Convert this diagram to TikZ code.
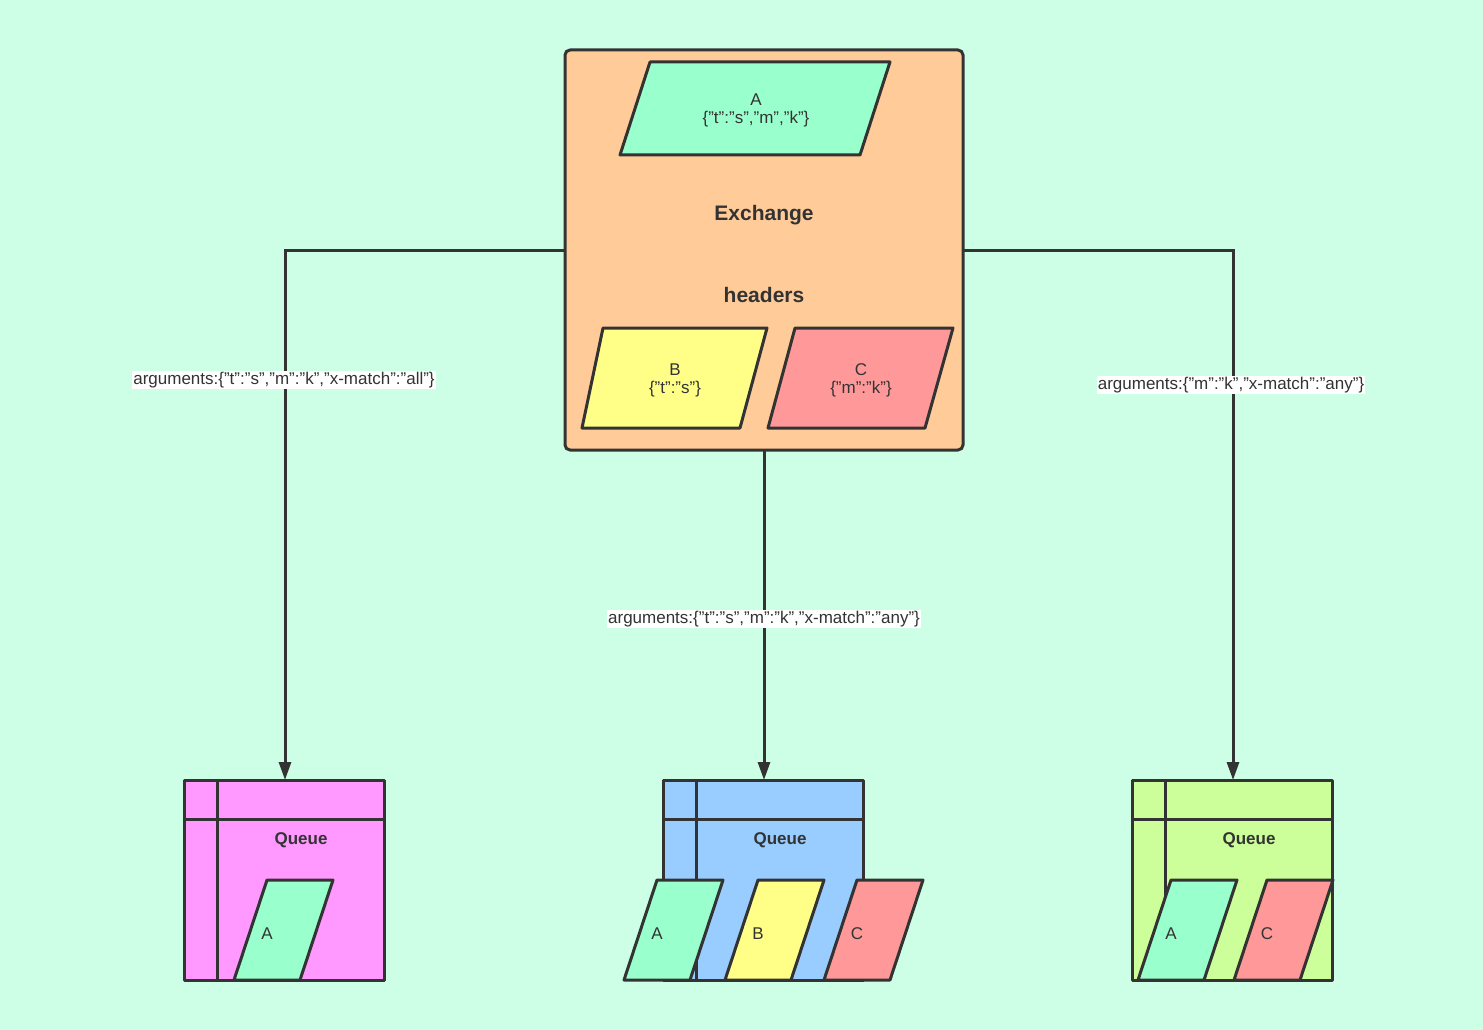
\documentclass[tikz,border=0pt]{standalone}
\usepackage{fontspec}
\setmainfont{Liberation Sans}
\usetikzlibrary{arrows.meta}
\definecolor{bg}{HTML}{CCFFE6}
\definecolor{ex}{HTML}{FFCC99}
\definecolor{ga}{HTML}{99FFCC}
\definecolor{yb}{HTML}{FFFF88}
\definecolor{rc}{HTML}{FF9999}
\definecolor{q1}{HTML}{FF99FF}
\definecolor{q2}{HTML}{99CCFF}
\definecolor{q3}{HTML}{CCFF99}
\definecolor{ln}{HTML}{333333}
\begin{document}
\begin{tikzpicture}[x=1pt,y=-1pt,line width=3pt,
  bx/.style={draw=ln,line join=round},
  lbl/.style={fill=white,inner sep=1pt,text=ln,font=\fontsize{17}{19}\selectfont},
  txt/.style={text=ln,font=\fontsize{17}{20}\selectfont,align=center},
  bold/.style={text=ln,font=\fontsize{21}{24}\selectfont\bfseries},
  arr/.style={draw=ln,-{Triangle[length=18pt,width=12pt]}}]
\fill[bg] (0,0) rectangle (1483,1030);
\useasboundingbox (0,0) rectangle (1483,1030);
% exchange
\draw[bx,fill=ex,rounded corners=5pt] (565,50) rectangle (963,450);
\coordinate (exL) at (565,250); \coordinate (exR) at (963,250); \coordinate (exB) at (764,450);
\draw[bx,fill=ga] (650,62)--(890,62)--(860,155)--(620,155)--cycle;
\node[txt] (pa) at (756,110) {A\\[-2pt]\{"t":"s","m","k"\}};
\draw[bx,fill=yb] (603,328)--(767,328)--(740,428)--(582,428)--cycle;
\node[txt] (pb) at (675,380) {B\\[-2pt]\{"t":"s"\}};
\draw[bx,fill=rc] (795,328)--(953,328)--(925,428)--(768,428)--cycle;
\node[txt] (pc) at (861,380) {C\\[-2pt]\{"m":"k"\}};
\node[bold] (ex) at (764,215) {Exchange};
\node[bold] (hd) at (764,295) {headers};
% queues
\newcommand{\queue}[3]{%
 \draw[bx,fill=#2] (#1,780) rectangle ++(200,200);
 \draw[ln] (#1,819) -- ++(200,0) (#1+33,780) -- ++(0,200);
 \node[text=ln,font=\fontsize{17}{20}\selectfont\bfseries] (#3) at (#1+117,840) {Queue};
 \coordinate (#3t) at (#1+101,780);}
\newcommand{\msg}[3]{%
 \draw[bx,fill=#2] (#1,880)--++(66,0)--++(-33,100)--++(-66,0)--cycle;
 \node[txt] at (#1,934) {#3};}
\queue{184}{q1}{qa}
\msg{267}{ga}{A}
\queue{663}{q2}{qb}
\msg{657}{ga}{A}\msg{758}{yb}{B}\msg{857}{rc}{C}
\queue{1132}{q3}{qc}
\msg{1171}{ga}{A}\msg{1267}{rc}{C}
% connectors
\draw[arr] (exL) -| (qat);
\draw[arr] (exR) -| (qct);
\draw[arr] (exB) -- (qbt);
\node[lbl] at (284,380) {arguments:\{"t":"s","m":"k","x-match":"all"\}};
\node[lbl] at (764,619) {arguments:\{"t":"s","m":"k","x-match":"any"\}};
\node[lbl] at (1231,385) {arguments:\{"m":"k","x-match":"any"\}};
\end{tikzpicture}
\end{document}
